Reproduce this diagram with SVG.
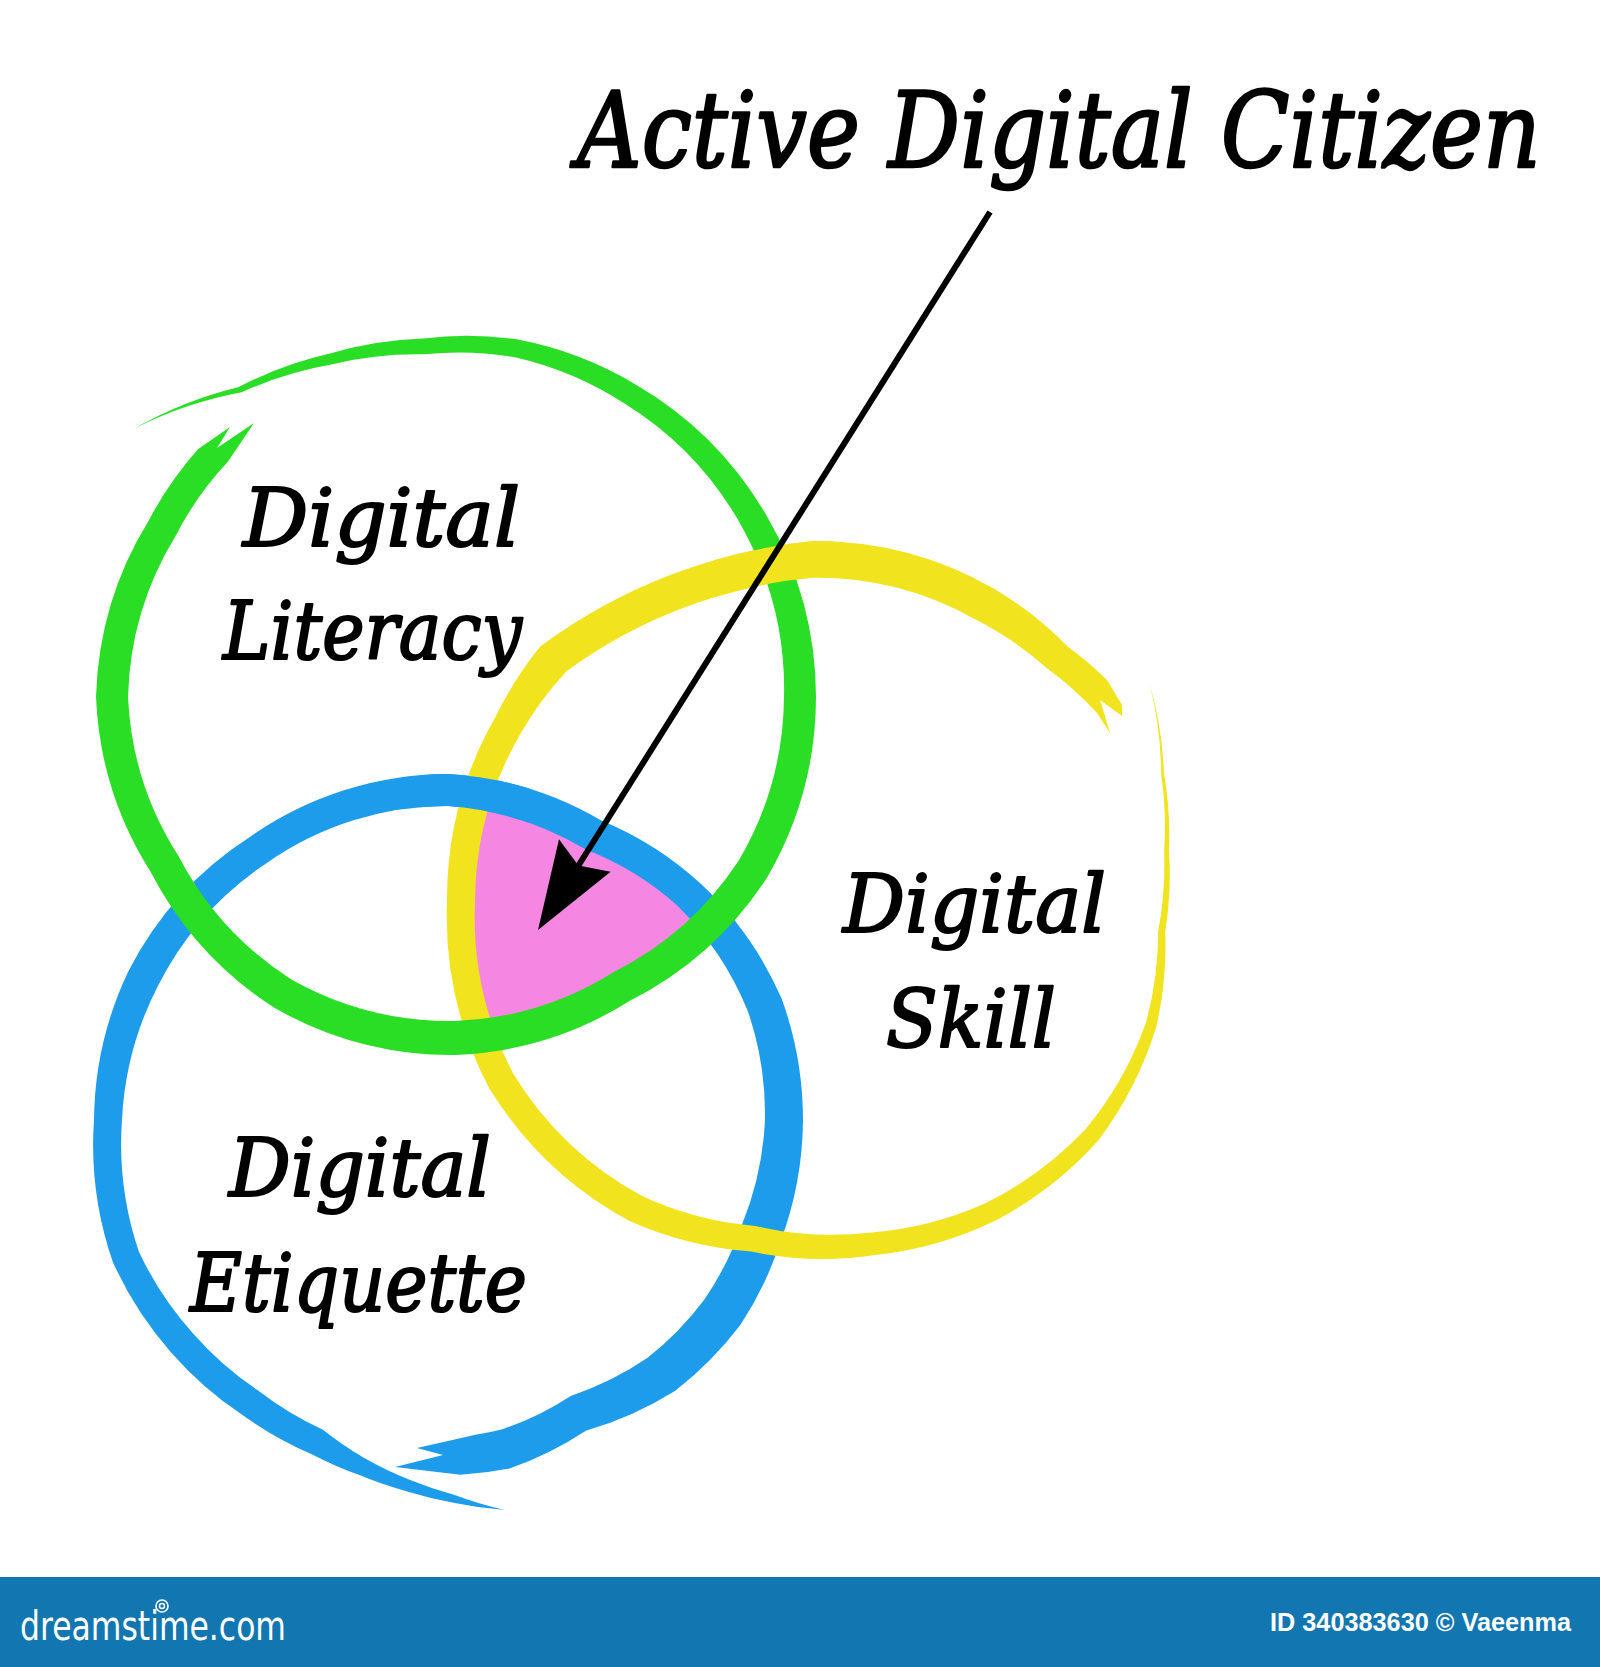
<svg xmlns="http://www.w3.org/2000/svg" xmlns:xlink="http://www.w3.org/1999/xlink" width="1600" height="1667" viewBox="0 0 1600 1667">
<style>
.lbl{font-family:"DejaVu Serif","Liberation Serif",serif;font-style:italic;font-weight:normal;font-size:80px;fill:#000;stroke:#000;stroke-width:2.2px;stroke-linejoin:round}
.title{font-family:"DejaVu Serif","Liberation Serif",serif;font-style:italic;font-weight:normal;font-size:104px;fill:#000;stroke:#000;stroke-width:2.6px;stroke-linejoin:round}
.green{fill:#2ade26}
.yellow{fill:#f1e41f}
.blue{fill:#1e9cec}
.pink{fill:#f586e2}
.bar{fill:#1277b1}
.foot{fill:#fff}
</style>
<defs>
<clipPath id="clipG"><circle cx="455" cy="697" r="343"/></clipPath>
<clipPath id="clipB"><circle cx="448" cy="1120" r="328"/></clipPath>
<clipPath id="clipBY"><rect x="420" y="755" width="110" height="80"/></clipPath>
<clipPath id="clipYG"><rect x="715" y="515" width="120" height="90"/></clipPath>
</defs>
<rect x="0" y="0" width="1600" height="1667" fill="#fff"/>

<g id="center-region">
<g clip-path="url(#clipG)"><g clip-path="url(#clipB)"><circle class="pink" cx="813" cy="901" r="350"/></g></g>
</g>

<g id="node-etiquette">
<path id="ring-blue" class="blue" d="M 504.9 1509.9 A 390 390 0 0 1 454.7 1502.9 A 380 380 0 0 1 408.9 1491.9 A 370 370 0 0 1 359.5 1475.1 A 363 363 0 0 1 312.8 1454.7 A 360 360 0 0 1 241.8 1414.5 A 360 360 0 0 1 171.1 1352.4 A 362 362 0 0 1 112.9 1262.2 A 358 358 0 0 1 94 1120 A 353 353 0 0 1 128.5 971 A 348 348 0 0 1 249.8 837 A 346 346 0 0 1 448 774 A 340 340 0 0 1 600.8 820.2 A 340 340 0 0 1 701.1 884 A 350 350 0 0 1 781.6 998.6 A 355 355 0 0 1 803 1120 A 355 355 0 0 1 780.7 1241.1 A 357 357 0 0 1 740.5 1324.8 A 355 355 0 0 1 675.2 1390.8 A 345 345 0 0 1 586.3 1430.6 A 348 348 0 0 1 509.5 1468.6 A 354 354 0 0 1 460.4 1474.8 L 395 1467 L 443 1455 L 417 1448 L 475.6 1434.8 A 314 314 0 0 0 502.5 1429.2 A 305 305 0 0 0 570.8 1395.9 A 310 310 0 0 0 647.6 1357.8 A 313 313 0 0 0 704.4 1299.5 A 312 312 0 0 0 741.2 1226.7 A 317 317 0 0 0 765 1120 A 319 319 0 0 0 747.8 1010.9 A 314 314 0 0 0 677.7 905.9 A 305 305 0 0 0 585.8 849.6 A 314 314 0 0 0 448 806 A 314 314 0 0 0 267.6 862.4 A 320 320 0 0 0 158.4 985 A 326 326 0 0 0 122 1120 A 336 336 0 0 0 138.7 1251.3 A 332 332 0 0 0 193.3 1333.7 A 330 330 0 0 0 258.4 1390.7 A 335 335 0 0 0 322.9 1429.7 A 345 345 0 0 0 363.8 1457.7 A 358 358 0 0 0 410.2 1480 A 372 372 0 0 0 454.6 1494.9 A 390 390 0 0 0 504.9 1509.9 Z"/>
<text class="lbl" x="229" y="1196" textLength="262" lengthAdjust="spacingAndGlyphs">Digital</text>
<text class="lbl" x="190" y="1311" textLength="337" lengthAdjust="spacingAndGlyphs">Etiquette</text>
</g>

<g id="node-skill">
<path id="ring-yellow" class="yellow" d="M 1149.3 682.6 A 380 380 0 0 1 1164 773.3 A 365 365 0 0 1 1169 851 A 356 356 0 0 1 1165.2 931.8 A 360 360 0 0 1 1156.5 1026 A 368 368 0 0 1 1098.3 1140.4 A 370 370 0 0 1 997 1219.7 A 362 362 0 0 1 875.4 1255 A 356 356 0 0 1 751.2 1251.6 A 362 362 0 0 1 628.5 1220.6 A 372 372 0 0 1 489.1 1088 A 370 370 0 0 1 447 901 A 366 366 0 0 1 495.2 717.5 A 370 370 0 0 1 540.2 646.6 A 550 550 0 0 1 813 541 A 361 361 0 0 1 993.5 588.4 A 360 360 0 0 1 1067.6 646.4 A 360 360 0 0 1 1107 680 L 1122 705 L 1122 716 L 1100 700 L 1110 733 L 1097 713 A 330 330 0 0 0 1046.3 667.7 A 325 325 0 0 0 975.5 619.5 A 324 324 0 0 0 813 577.5 A 500 500 0 0 0 566.5 671.2 A 337 337 0 0 0 521.2 732.5 A 338 338 0 0 0 475 901 A 340 340 0 0 0 513.4 1074 A 343 343 0 0 0 642.5 1196.3 A 335 335 0 0 0 755.7 1226 A 333 333 0 0 0 871.4 1232.4 A 345 345 0 0 0 987 1202.4 A 352 352 0 0 0 1085.3 1129.5 A 352 352 0 0 0 1146.1 1022.2 A 346 346 0 0 0 1158.2 931.2 A 350 350 0 0 0 1164.1 851.6 A 365 365 0 0 0 1161.2 774.3 A 380 380 0 0 0 1149.3 682.6 Z"/>
<text class="lbl" x="843" y="932" textLength="263" lengthAdjust="spacingAndGlyphs">Digital</text>
<text class="lbl" x="886" y="1047" textLength="170" lengthAdjust="spacingAndGlyphs">Skill</text>
</g>

<use xlink:href="#ring-blue" href="#ring-blue" clip-path="url(#clipBY)"/>

<g id="node-literacy">
<path id="ring-green" class="green" d="M 134.8 428.3 A 400 400 0 0 1 238.2 387.3 A 372 372 0 0 1 330 353.5 A 362 362 0 0 1 423.6 338.4 A 361 361 0 0 1 518 339.5 A 361 361 0 0 1 635.5 384.4 A 360 360 0 0 1 767.2 516.7 A 360 360 0 0 1 816 697 A 360 360 0 0 1 767.2 877.3 A 355 355 0 0 1 630.3 1000.5 A 355 355 0 0 1 455 1055 A 358 358 0 0 1 275.2 1008.3 A 355 355 0 0 1 151 872.5 A 355 355 0 0 1 96 697 A 355 355 0 0 1 148.9 520.2 A 355 355 0 0 1 198.2 449 L 230 427 L 217 448 L 254 423 L 227.8 461.8 A 325 325 0 0 0 175.7 535.7 A 325 325 0 0 0 128 697 A 322 322 0 0 0 178.7 856.5 A 325 325 0 0 0 291.7 979.8 A 325 325 0 0 0 455 1021 A 322 322 0 0 0 613.8 972 A 322 322 0 0 0 738.6 860.8 A 329 329 0 0 0 784 697 A 332 332 0 0 0 743.8 530.2 A 336 336 0 0 0 624.5 403.4 A 342 342 0 0 0 514.9 357.2 A 344 344 0 0 0 425 354.3 A 354 354 0 0 0 333.8 363.9 A 370 370 0 0 0 241.6 392.3 A 400 400 0 0 0 134.8 428.3 Z"/>
<text class="lbl" x="243" y="546" textLength="277" lengthAdjust="spacingAndGlyphs">Digital</text>
<text class="lbl" x="223" y="659" textLength="299" lengthAdjust="spacingAndGlyphs">Literacy</text>
</g>

<use xlink:href="#ring-yellow" href="#ring-yellow" clip-path="url(#clipYG)"/>

<g id="node-title">
<text class="title" transform="translate(577 167) scale(0.88 1)" x="0" y="0" textLength="1095" lengthAdjust="spacingAndGlyphs">Active Digital Citizen</text>
</g>

<g id="connectors">
<line x1="990" y1="212" x2="575" y2="871" stroke="#000" stroke-width="6"/>
<polygon points="538,930 559,839.3 578.4,865.6 610.6,871.7" fill="#000"/>
</g>

<g id="footer">
<rect class="bar" x="0" y="1577" width="1600" height="90"/>
<text class="foot" x="20" y="1640" font-family="'DejaVu Sans', sans-serif" font-size="40" textLength="266" lengthAdjust="spacingAndGlyphs">dreamstime.com</text>
<circle cx="162" cy="1606" r="6" fill="none" stroke="#fff" stroke-width="1.6"/>
<circle cx="162" cy="1606" r="2.5" fill="none" stroke="#fff" stroke-width="1.4"/>
<text class="foot" x="1270" y="1631" font-family="'Liberation Sans', Arial, sans-serif" font-weight="bold" font-size="26" textLength="301" lengthAdjust="spacingAndGlyphs">ID 340383630 © Vaeenma</text>
</g>
</svg>
